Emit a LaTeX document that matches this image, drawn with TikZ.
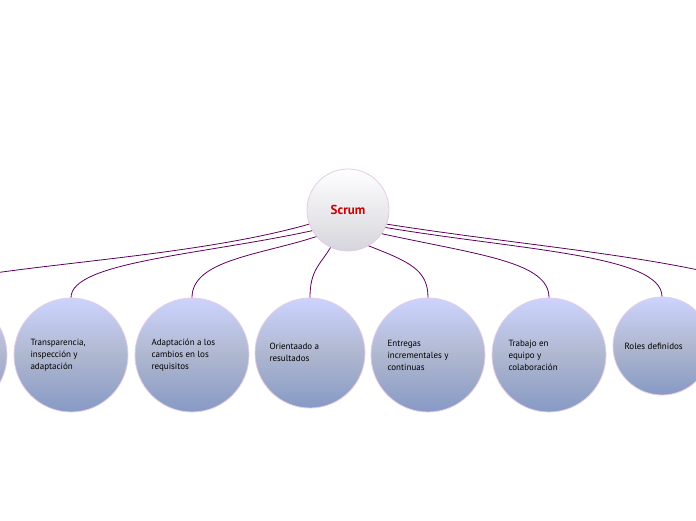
\documentclass[tikz,border=0pt]{standalone}
\usepackage{fontspec}
\setmainfont{PT Sans}
\begin{document}
\begin{tikzpicture}[x=1pt,y=-1pt,
  child/.style={circle,minimum size=114pt,draw=violet!20,line width=0.8pt,top color=cyan!15!blue!20!white,bottom color=cyan!30!blue!35!gray!70,middle color=cyan!25!blue!25!gray!50,shading angle=0,inner sep=0pt},
  lbl/.style={anchor=west,align=left,font=\fontsize{9}{12}\selectfont,text=black},
  conn/.style={draw=violet!75!black,line width=0.8pt}]
\clip (0,0) rectangle (696,520);
\fill[white] (0,0) rectangle (696,520);
\node[circle,minimum size=82pt,draw=violet!20,line width=0.8pt,top color=white,bottom color=blue!10!gray!30,font=\fontsize{13}{15}\selectfont\bfseries,text=red!80!black] (s) at (348,210) {Scrum};
\node[child] (c0) at (-50,355) {};
\node[child] (c1) at (71,355) {};
\node[child] (c2) at (192,355) {};
\node[child,minimum size=110pt] (c3) at (310,353) {};
\node[child] (c4) at (428,355) {};
\node[child] (c5) at (549,355) {};
\node[child,minimum size=98pt] (c6) at (662,346) {};
\node[lbl] at (27,355) {Transparencia,\\inspección y\\adaptación};
\node[lbl] at (148,355) {Adaptación a los\\cambios en los\\requisitos};
\node[lbl] at (266,352) {Orientaado a\\resultados};
\node[lbl] at (384,355) {Entregas\\incrementales y\\continuas};
\node[lbl] at (505,355) {Trabajo en\\equipo y\\colaboración};
\node[lbl] at (621,346) {Roles definidos};
\draw[conn] (s.-160) .. controls (200,255) and (50,262) .. (-50,280);
\draw[conn] (s.-150) .. controls (200,255) and (71,262) .. (c1.north);
\draw[conn] (s.-140) .. controls (260,255) and (192,260) .. (c2.north);
\draw[conn] (s.-115) .. controls (320,265) and (310,270) .. (c3.north);
\draw[conn] (s.-60) .. controls (410,262) and (428,270) .. (c4.north);
\draw[conn] (s.-35) .. controls (480,255) and (549,262) .. (c5.north);
\draw[conn] (s.-25) .. controls (520,250) and (662,255) .. (c6.north);
\draw[conn] (s.-20) .. controls (520,245) and (650,255) .. (740,280);
\end{tikzpicture}
\end{document}
